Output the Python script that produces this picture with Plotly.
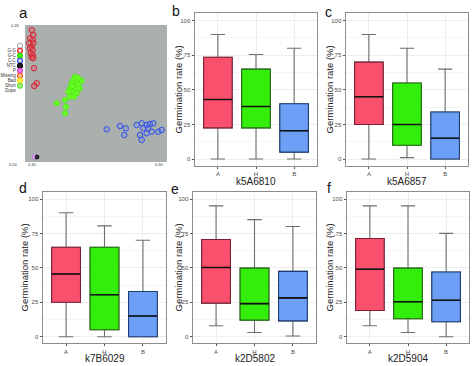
import plotly.graph_objects as go

W, H = 474, 366
FONT = "Liberation Sans, Arial, sans-serif"

# ---------------- panel a data (arbitrary PC-like units) ----------------
red_x = [6.7, 8.3, 5.0, 7.7, 4.3, 8.3, 6.7, 5.0, 7.7, 5.7, 7.7, 6.7, 8.3, 9.0, 11.7, 9.3]
red_y = [132, 127, 123.7, 122, 118.7, 118.7, 115.3, 113.7, 112, 108.7, 107, 104.7, 103.7, 93.7, 78.7, 76]
green_x = [50, 48.3, 51.7, 56.7, 46.7, 53.3, 45, 50, 55, 43.3, 48.3, 51.7, 45, 49, 40, 31.7, 41, 40, 53, 47]
green_y = [85.3, 82, 80.3, 81.3, 78.7, 77, 73.7, 73.7, 73.7, 70.3, 70.3, 68.7, 65.3, 65.3, 62, 58.7, 55.3, 48.7, 84, 76]
blue_x = [81.7, 95, 100.7, 99.3, 111.7, 116.7, 121.7, 125, 128.3, 123.3, 118.3, 115, 116.7, 121.7, 126.7, 133.3, 136.7]
blue_y = [32.7, 36, 33.7, 27, 37, 38.7, 37, 38, 38.7, 33.7, 33.7, 27, 22, 28.7, 30.3, 30.3, 32]
purple_x = [10]
purple_y = [5.3]
black_x = [12]
black_y = [5]

legend_labels = ["", "G-G", "G-C", "C-C", "NTC", "P", "Missing", "Bad", "Short", "Dupe"]
legend_fill = ["rgba(0,0,0,0)", "rgba(230,60,70,0.3)", "#44EE11", "rgba(60,90,230,0.3)", "#222222",
               "#F07AF0", "rgba(240,100,40,0.4)", "#FFEE55", "#99EE77", "rgba(0,0,0,0)"]
legend_line = ["#AAAAAA", "#D8202C", "#33CC00", "#2A4AE0", "#000000",
               "#D040D0", "#EE5522", "#F5D800", "#66DD44", "rgba(0,0,0,0)"]

# ---------------- box plot data ----------------
groups = ["A", "H", "B"]
fill_colors = ["#F9506E", "#33EE0A", "#6CA0F6"]
edge_colors = ["#7D1F33", "#226B12", "#1E3C72"]
whisker_color = "#6E6E6E"

panel_letters = ["b", "c", "d", "e", "f"]
marker_names = ["k5A6810", "k5A6857", "k7B6029", "k2D5802", "k2D5904"]

lower = [[0, 0, 0], [0, 1, 0], [0, 0, 0], [8, 3, 0.5], [8, 3, 0]]
q1 = [[22.5, 22.5, 5], [25, 10, 0], [25, 5, 0], [24.4, 12, 11.5], [19, 13, 10.8]]
median = [[43, 38, 20.5], [45, 25, 15], [45.5, 30.5, 15], [50.2, 24, 28.2], [49, 25.4, 26.5]]
q3 = [[73.5, 65, 40], [70, 55, 34], [65, 65, 32.8], [70.6, 49.8, 47.4], [71.3, 49.8, 47]]
upper = [[90, 75.5, 80], [90, 80, 65], [90, 80.5, 70], [95, 85, 80], [95, 95, 75]]

y_ticks = [0, 25, 50, 75, 100]
y_minor = [12.5, 37.5, 62.5, 87.5]

# ---------------- layout geometry (pixels) ----------------
a_dom = (25, 167, 25, 162)        # x0, x1, ytop, ybottom
leg_dom = (0, 24, 25, 162)
box_doms = [(195, 317, 13.3, 165.7), (346, 468, 13.3, 165.7),
            (43, 166, 191.7, 343.3), (193, 316, 191.7, 343.3), (347, 469, 191.7, 343.3)]
ytitle_x = [178, 329, 24, 178, 329]
xtitle_y = [181, 181, 358.5, 358.5, 358.5]
letter_pos = [(176, 11), (328, 12), (23, 188), (175, 189), (329, 188)]


def xd(x0, x1):
    return [x0 / W, x1 / W]


def yd(top, bottom):
    return [1 - bottom / H, 1 - top / H]


def ann(text, x, y, size, color="#222222", xanchor="center", **kw):
    return dict(text=text, x=x, y=y, showarrow=False, xanchor=xanchor, yanchor="middle",
                font=dict(size=size, color=color, family=FONT), **kw)


fig = go.Figure()

# panel a scatter
fig.add_trace(go.Scatter(x=red_x, y=red_y, mode="markers", xaxis="x", yaxis="y",
                         marker=dict(size=5.5, color="rgba(235,90,100,0.35)",
                                     line=dict(color="#D8202C", width=1))))
fig.add_trace(go.Scatter(x=green_x, y=green_y, mode="markers", xaxis="x", yaxis="y",
                         marker=dict(size=5.5, color="#66FF22",
                                     line=dict(color="#4BE014", width=0.6))))
fig.add_trace(go.Scatter(x=blue_x, y=blue_y, mode="markers", xaxis="x", yaxis="y",
                         marker=dict(size=5.5, color="rgba(120,140,230,0.25)",
                                     line=dict(color="#3050E8", width=1))))
fig.add_trace(go.Scatter(x=purple_x, y=purple_y, mode="markers", xaxis="x", yaxis="y",
                         marker=dict(size=5.5, color="#E0B0F0",
                                     line=dict(color="#B070D0", width=0.8))))
fig.add_trace(go.Scatter(x=black_x, y=black_y, mode="markers", xaxis="x", yaxis="y",
                         marker=dict(size=4, color="#333333",
                                     line=dict(color="#000000", width=0.8))))

# panel a side legend
leg_top = 116.3
leg_step = 5.0
leg_y = [leg_top - i * leg_step for i in range(len(legend_labels))]
leg_x = [20] * len(legend_labels)
fig.add_trace(go.Scatter(x=leg_x, y=leg_y, mode="markers+text", xaxis="x2", yaxis="y2",
                         text=legend_labels, textposition="middle left",
                         textfont=dict(size=4.5, color="#333333", family=FONT),
                         marker=dict(size=5, color=legend_fill,
                                     line=dict(color=legend_line, width=1.1))))

layout = dict(
    width=W, height=H, margin=dict(l=0, r=0, t=0, b=0),
    paper_bgcolor="white", plot_bgcolor="white", showlegend=False,
    boxmode="overlay", hovermode=False,
    font=dict(family=FONT),
    xaxis=dict(domain=xd(a_dom[0], a_dom[1]), range=[0, 142], visible=False, anchor="y"),
    yaxis=dict(domain=yd(a_dom[2], a_dom[3]), range=[0, 137], visible=False, anchor="x"),
    xaxis2=dict(domain=xd(leg_dom[0], leg_dom[1]), range=[0, 24], visible=False, anchor="y2"),
    yaxis2=dict(domain=yd(leg_dom[2], leg_dom[3]), range=[0, 137], visible=False, anchor="x2"),
)

shapes = [dict(type="rect", xref="x domain", yref="y domain", x0=0, x1=1, y0=0, y1=1,
               fillcolor="#A9B0AE", line=dict(width=0), layer="below")]
annotations = [
    ann("a", 23 / W, 1 - 12 / H, 15, "#111111", xref="paper", yref="paper"),
    ann("0.26", 22 / W, 1 - 26 / H, 4, "#333333", "right", xref="paper", yref="paper"),
    ann("0.24", 20 / W, 1 - 165 / H, 4, "#333333", "right", xref="paper", yref="paper"),
    ann("0.30", 26 / W, 1 - 165 / H, 4, "#333333", "left", xref="paper", yref="paper"),
    ann("0.30", 166 / W, 1 - 165 / H, 4, "#333333", "right", xref="paper", yref="paper"),
]

positions = list(range(1, len(groups) + 1))
half_w = 0.375

for i in range(len(panel_letters)):
    n = i + 3
    xr, yr = f"x{n}", f"y{n}"
    for j, g in enumerate(groups):
        pos = positions[j]
        # whiskers
        fig.add_trace(go.Box(x=[pos], q1=[q1[i][j]], median=[median[i][j]], q3=[q3[i][j]],
                             lowerfence=[lower[i][j]], upperfence=[upper[i][j]],
                             xaxis=xr, yaxis=yr, width=0.75, boxpoints=False,
                             fillcolor="rgba(0,0,0,0)",
                             line=dict(color=whisker_color, width=1.1)))
        # box body
        fig.add_trace(go.Box(x=[pos], q1=[q1[i][j]], median=[median[i][j]], q3=[q3[i][j]],
                             lowerfence=[q1[i][j]], upperfence=[q3[i][j]],
                             xaxis=xr, yaxis=yr, width=0.75, boxpoints=False,
                             fillcolor=fill_colors[j],
                             line=dict(color=edge_colors[j], width=1.1)))
        # median line
        fig.add_trace(go.Scatter(x=[pos - half_w, pos + half_w],
                                 y=[median[i][j], median[i][j]], mode="lines",
                                 xaxis=xr, yaxis=yr,
                                 line=dict(color="#111111", width=1.6)))
    x0, x1, yt, yb = box_doms[i]
    layout[f"xaxis{n}"] = dict(
        domain=xd(x0, x1), range=[0.4, 3.6], anchor=yr,
        tickvals=positions, ticktext=groups,
        showgrid=True, gridcolor="#EDEDED", gridwidth=1, zeroline=False,
        showline=True, mirror=True, linecolor="#8C8C8C", linewidth=1,
        ticks="outside", ticklen=2, tickcolor="#555555", tickwidth=0.8,
        tickfont=dict(size=6, color="#4D4D4D", family=FONT))
    layout[f"yaxis{n}"] = dict(
        domain=yd(yt, yb), range=[-4.8, 105.3], anchor=xr,
        tickvals=y_ticks, showgrid=True, gridcolor="#EDEDED", gridwidth=1, zeroline=False,
        minor=dict(tickvals=y_minor, showgrid=True, gridcolor="#F6F6F6", gridwidth=0.6, ticks=""),
        showline=True, mirror=True, linecolor="#8C8C8C", linewidth=1,
        ticks="outside", ticklen=2.5, tickcolor="#555555", tickwidth=0.8,
        tickfont=dict(size=6, color="#4D4D4D", family=FONT))
    annotations.append(ann("Germination rate (%)", ytitle_x[i] / W, 0.5, 9.5,
                           textangle=-90, xref="paper", yref=f"{yr} domain"))
    annotations.append(ann(marker_names[i], 0.5, 1 - xtitle_y[i] / H, 10,
                           xref=f"{xr} domain", yref="paper"))
    lx, ly = letter_pos[i]
    annotations.append(ann(panel_letters[i], lx / W, 1 - ly / H, 14, "#111111",
                           xref="paper", yref="paper"))

layout["shapes"] = shapes
layout["annotations"] = annotations
fig.update_layout(**layout)
fig.write_html("out.html", config={"displayModeBar": False},
               post_script="document.body.style.margin='0';document.body.style.overflow='hidden';")
